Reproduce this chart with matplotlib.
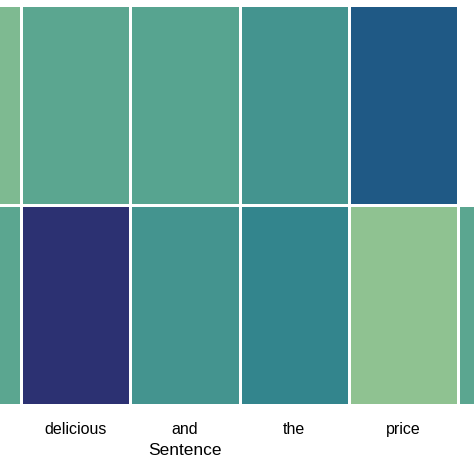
import matplotlib
matplotlib.use("Agg")
import matplotlib.pyplot as plt
import seaborn as sns
import numpy as np

words = ["", "delicious", "and", "the", "price", ""]
row_top = [0.14, 0.28, 0.30, 0.40, 0.78, np.nan]
row_bottom = [0.28, 1.00, 0.40, 0.50, 0.08, 0.28]

plt.rcParams['font.family'] = ['Liberation Sans', 'DejaVu Sans']
fig = plt.figure(figsize=(4.74, 4.74), dpi=100)
ax = fig.add_axes([-88/474, (474-405)/474, 655/474, 400/474])
data = np.array([row_top, row_bottom])
sns.heatmap(data, ax=ax, cmap="crest", vmin=0, vmax=1, cbar=False,
            linewidths=1.0, linecolor="white", xticklabels=words, yticklabels=False)
ax.tick_params(axis='x', length=0, labelsize=11.5, pad=12)
ax.set_xlabel("Sentence", fontsize=12.5)
ax.xaxis.set_label_coords((185+88)/655, -0.095)
fig.savefig("out.png", dpi=100)
